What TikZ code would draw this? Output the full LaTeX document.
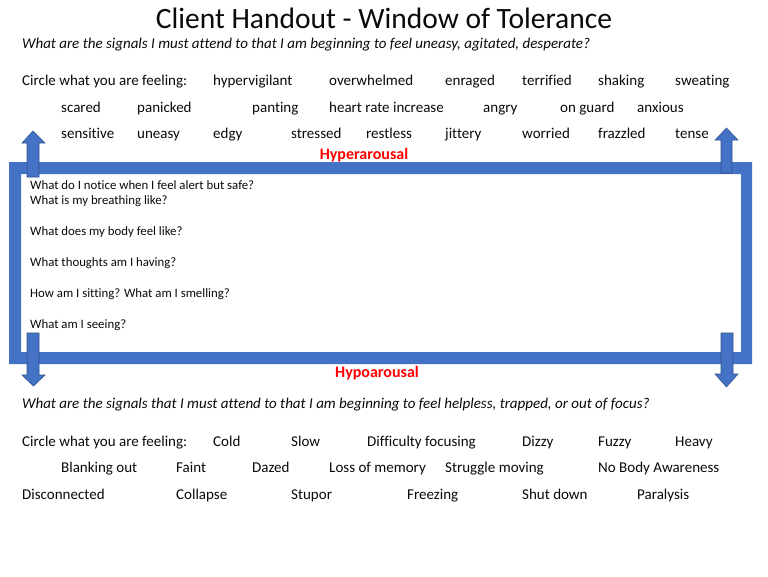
\documentclass[tikz,border=0pt]{standalone}
\usepackage{fontspec}
\setmainfont{Carlito}[Ligatures=NoCommon]
\definecolor{frameblue}{HTML}{4472C4}
\definecolor{edgeblue}{HTML}{2F528F}
\definecolor{labelred}{HTML}{FF0000}
\definecolor{inkgray}{HTML}{0A0A0A}
\begin{document}
\begin{tikzpicture}[x=1pt,y=-1pt,
  word/.style={anchor=base west,inner sep=0pt,font=\fontsize{15}{18}\selectfont,text=inkgray},
  ask/.style={anchor=base west,inner sep=0pt,font=\fontsize{15}{18}\selectfont\itshape,text=inkgray},
  inner/.style={anchor=base west,inner sep=0pt,font=\fontsize{12.8}{15}\selectfont,text=inkgray},
  zone/.style={anchor=base,inner sep=0pt,font=\fontsize{16}{19}\selectfont\bfseries,text=labelred},
  blockarrow/.style={fill=frameblue,draw=edgeblue,line width=0.6pt,line join=miter}]
\useasboundingbox[fill=white] (0,0) rectangle (768,576);

% title and questions
\node[anchor=base,inner sep=0pt,font=\fontsize{29.5}{34}\selectfont,text=inkgray] (title) at (384,28) {Client Handout - Window of Tolerance};
\node[ask] (q1) at (22,48) {What are the signals I must attend to that I am beginning to feel uneasy, agitated, desperate?};

% hyperarousal words
\node[word] (c1) at (22,85) {Circle what you are feeling:};
\node[word] (h1) at (213,85) {hypervigilant};
\node[word] (h2) at (329,85) {overwhelmed};
\node[word] (h3) at (445,85) {enraged};
\node[word] (h4) at (522,85) {terrified};
\node[word] (h5) at (598,85) {shaking};
\node[word] (h6) at (675,85) {sweating};
\node[word] (h7) at (61,112) {scared};
\node[word] (h8) at (137,112) {panicked};
\node[word] (h9) at (252,112) {panting};
\node[word] (h10) at (329,112) {heart rate increase};
\node[word] (h11) at (483,112) {angry};
\node[word] (h12) at (560,112) {on guard};
\node[word] (h13) at (637,112) {anxious};
\node[word] (h14) at (61,138) {sensitive};
\node[word] (h15) at (137,138) {uneasy};
\node[word] (h16) at (213,138) {edgy};
\node[word] (h17) at (291,138) {stressed};
\node[word] (h18) at (366,138) {restless};
\node[word] (h19) at (445,138) {jittery};
\node[word] (h20) at (522,138) {worried};
\node[word] (h21) at (598,138) {frazzled};
\node[word] (h22) at (675,138) {tense};

\node[zone] (hyper) at (364,159) {Hyperarousal};

% window frame
\fill[frameblue,even odd rule] (9,162) rectangle (752,364) (21,174) rectangle (741,352);

% block arrows
\draw[blockarrow] (27,177) -- (27,143) -- (22,143) -- (33,131) -- (45,143) -- (39,143) -- (39,177) -- cycle;
\draw[blockarrow] (721,173) -- (721,140) -- (715,140) -- (726.5,128) -- (738,140) -- (732,140) -- (732,173) -- cycle;
\draw[blockarrow] (27,333) -- (27,375) -- (22,375) -- (33.5,386) -- (45,375) -- (39,375) -- (39,333) -- cycle;
\draw[blockarrow] (721,333) -- (721,374) -- (715,374) -- (726.5,387) -- (738,374) -- (733,374) -- (733,333) -- cycle;

% inside the window
\node[inner] (w1) at (30,189) {What do I notice when I feel alert but safe?};
\node[inner] (w2) at (30,204) {What is my breathing like?};
\node[inner] (w3) at (30,235) {What does my body feel like?};
\node[inner] (w4) at (30,266) {What thoughts am I having?};
\node[inner] (w5) at (30,297) {How am I sitting? What am I smelling?};
\node[inner] (w6) at (30,328) {What am I seeing?};

\node[zone] (hypo) at (377,377) {Hypoarousal};

% hypoarousal words
\node[ask] (q2) at (22,408) {What are the signals that I must attend to that I am beginning to feel helpless, trapped, or out of focus?};
\node[word] (c2) at (22,446) {Circle what you are feeling:};
\node[word] (l1) at (213,446) {Cold};
\node[word] (l2) at (291,446) {Slow};
\node[word] (l3) at (367,446) {Difficulty focusing};
\node[word] (l4) at (522,446) {Dizzy};
\node[word] (l5) at (598,446) {Fuzzy};
\node[word] (l6) at (675,446) {Heavy};
\node[word] (l7) at (61,472) {Blanking out};
\node[word] (l8) at (176,472) {Faint};
\node[word] (l9) at (252,472) {Dazed};
\node[word] (l10) at (329,472) {Loss of memory};
\node[word] (l11) at (445,472) {Struggle moving};
\node[word] (l12) at (598,472) {No Body Awareness};
\node[word] (l13) at (22,499) {Disconnected};
\node[word] (l14) at (176,499) {Collapse};
\node[word] (l15) at (291,499) {Stupor};
\node[word] (l16) at (407,499) {Freezing};
\node[word] (l17) at (522,499) {Shut down};
\node[word] (l18) at (637,499) {Paralysis};
\end{tikzpicture}
\end{document}
